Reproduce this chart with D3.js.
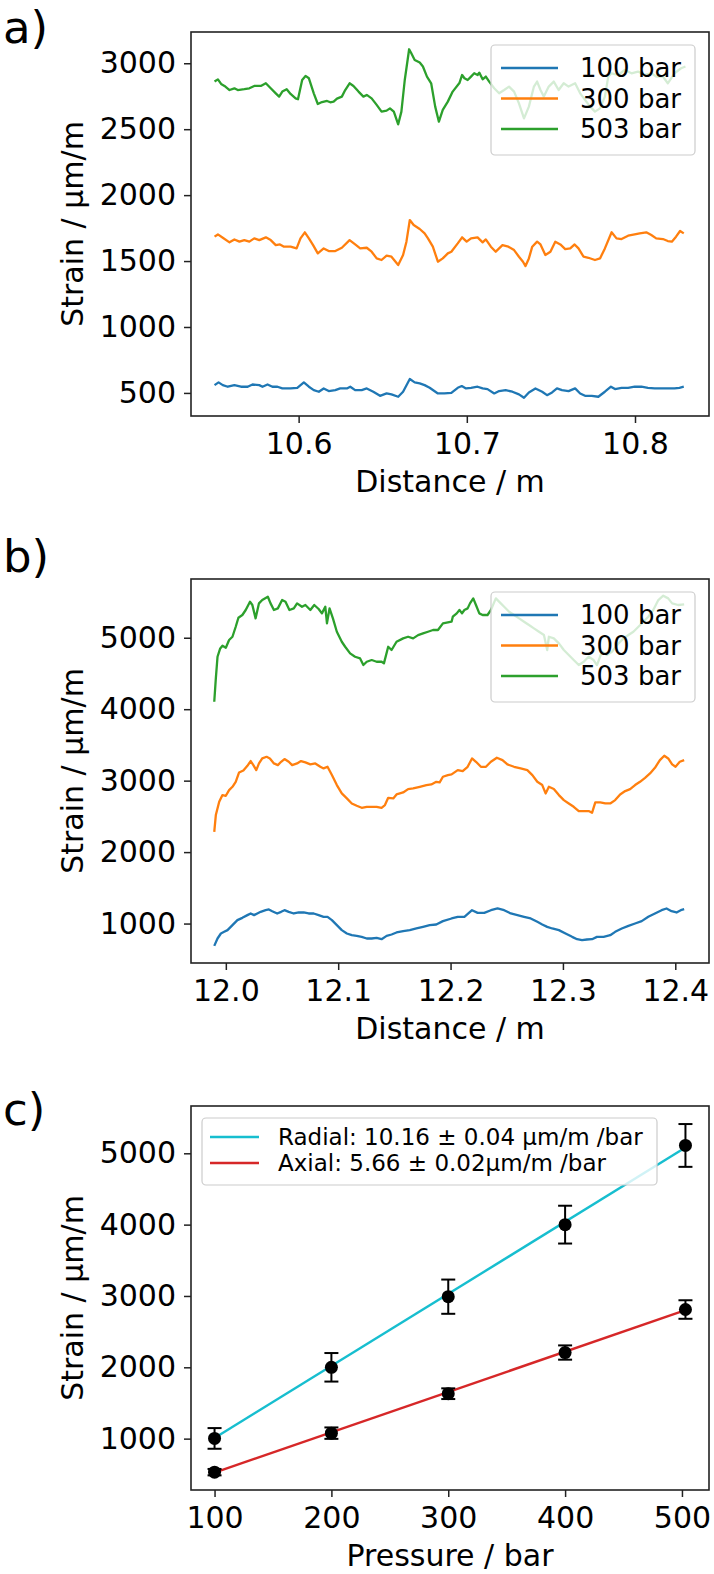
<!DOCTYPE html>
<meta charset="utf-8">
<head>
<style>
  body { margin: 0; background: white; }
  svg { display: block; }
  text { font-family: "DejaVu Sans", sans-serif; fill: #000; }
</style>
<script src="https://d3js.org/d3.v7.min.js"></script>
</head>
<body>
<svg id="fig"></svg>
<script>

// ---- panel a : strain along 10.55 - 10.83 m ----
const aBlue = [[10.5500,559],[10.5524,580],[10.5549,559],[10.5579,547],[10.5618,559],[10.5657,547],[10.5697,547],[10.5726,564],[10.5766,559],[10.5785,547],[10.5815,564],[10.5844,547],[10.5874,547],[10.5903,534],[10.5952,534],[10.5992,539],[10.6031,580],[10.6061,547],[10.6090,521],[10.6120,509],[10.6149,534],[10.6179,514],[10.6218,521],[10.6247,534],[10.6287,534],[10.6307,547],[10.6336,521],[10.6375,521],[10.6405,534],[10.6444,509],[10.6484,478],[10.6523,496],[10.6552,489],[10.6592,471],[10.6621,509],[10.6661,605],[10.6690,580],[10.6720,572],[10.6749,559],[10.6779,539],[10.6828,496],[10.6867,496],[10.6908,500],[10.6946,539],[10.6970,552],[10.6995,534],[10.7025,539],[10.7064,547],[10.7094,534],[10.7123,529],[10.7163,496],[10.7192,514],[10.7231,521],[10.7271,509],[10.7310,489],[10.7340,463],[10.7369,504],[10.7408,534],[10.7448,509],[10.7477,483],[10.7507,504],[10.7536,534],[10.7566,521],[10.7605,514],[10.7644,534],[10.7674,496],[10.7703,478],[10.7743,478],[10.7782,471],[10.7821,509],[10.7857,547],[10.7881,529],[10.7920,539],[10.7959,539],[10.7998,547],[10.8038,547],[10.8077,539],[10.8117,534],[10.8156,534],[10.8195,534],[10.8235,534],[10.8264,539],[10.8290,547]]

const aOrange = [[10.5500,1685],[10.5520,1702],[10.5549,1677],[10.5589,1642],[10.5618,1664],[10.5648,1647],[10.5677,1659],[10.5707,1647],[10.5736,1672],[10.5766,1659],[10.5805,1680],[10.5834,1659],[10.5864,1621],[10.5889,1626],[10.5913,1609],[10.5952,1609],[10.5988,1596],[10.6011,1672],[10.6037,1718],[10.6061,1672],[10.6086,1621],[10.6114,1558],[10.6149,1596],[10.6179,1576],[10.6218,1576],[10.6257,1601],[10.6303,1659],[10.6336,1626],[10.6366,1596],[10.6405,1601],[10.6434,1571],[10.6464,1520],[10.6493,1508],[10.6523,1541],[10.6552,1533],[10.6592,1470],[10.6621,1546],[10.6641,1647],[10.6661,1811],[10.6684,1773],[10.6720,1743],[10.6749,1710],[10.6769,1672],[10.6798,1609],[10.6828,1495],[10.6857,1520],[10.6887,1558],[10.6908,1571],[10.6946,1634],[10.6972,1680],[10.6999,1647],[10.7025,1672],[10.7064,1680],[10.7094,1642],[10.7113,1664],[10.7143,1609],[10.7172,1571],[10.7212,1621],[10.7247,1609],[10.7281,1583],[10.7310,1533],[10.7334,1495],[10.7349,1462],[10.7369,1520],[10.7389,1609],[10.7418,1647],[10.7438,1626],[10.7467,1546],[10.7497,1571],[10.7526,1647],[10.7556,1626],[10.7585,1591],[10.7615,1596],[10.7641,1626],[10.7664,1596],[10.7694,1533],[10.7723,1525],[10.7762,1508],[10.7792,1520],[10.7821,1596],[10.7861,1718],[10.7890,1672],[10.7920,1667],[10.7959,1692],[10.7998,1702],[10.8028,1710],[10.8067,1718],[10.8097,1697],[10.8126,1672],[10.8166,1667],[10.8195,1652],[10.8219,1647],[10.8244,1685],[10.8268,1728],[10.8290,1710]]

const aGreen = [[10.5500,2861],[10.5520,2878],[10.5539,2843],[10.5559,2828],[10.5589,2797],[10.5618,2810],[10.5638,2797],[10.5677,2803],[10.5707,2810],[10.5736,2828],[10.5775,2828],[10.5805,2848],[10.5834,2810],[10.5864,2772],[10.5884,2747],[10.5903,2785],[10.5929,2803],[10.5952,2767],[10.5982,2734],[10.5996,2727],[10.6021,2873],[10.6041,2904],[10.6061,2886],[10.6090,2772],[10.6114,2691],[10.6139,2706],[10.6169,2714],[10.6188,2704],[10.6208,2709],[10.6228,2732],[10.6257,2747],[10.6277,2797],[10.6303,2848],[10.6326,2828],[10.6356,2785],[10.6385,2747],[10.6405,2760],[10.6434,2734],[10.6464,2684],[10.6493,2633],[10.6523,2641],[10.6543,2658],[10.6566,2633],[10.6592,2537],[10.6611,2633],[10.6631,2873],[10.6657,3106],[10.6670,3076],[10.6690,3025],[10.6720,3005],[10.6739,2975],[10.6763,2899],[10.6788,2848],[10.6812,2671],[10.6834,2557],[10.6857,2646],[10.6887,2709],[10.6916,2785],[10.6956,2850],[10.6972,2911],[10.6986,2886],[10.7005,2873],[10.7025,2899],[10.7044,2924],[10.7064,2911],[10.7074,2929],[10.7094,2878],[10.7113,2899],[10.7133,2861],[10.7163,2810],[10.7192,2772],[10.7222,2797],[10.7251,2823],[10.7281,2785],[10.7310,2696],[10.7340,2582],[10.7369,2671],[10.7399,2823],[10.7418,2861],[10.7438,2797],[10.7458,2747],[10.7487,2823],[10.7517,2861],[10.7546,2797],[10.7576,2848],[10.7605,2823],[10.7644,2848],[10.7674,2772],[10.7703,2722],[10.7733,2671],[10.7762,2633],[10.7792,2658],[10.7821,2747],[10.7841,2899],[10.7861,2924],[10.7900,2911],[10.7939,2949],[10.7979,2924],[10.8018,2937],[10.8057,2911],[10.8097,2924],[10.8126,2899],[10.8166,2899],[10.8195,2848],[10.8215,2886],[10.8235,2924],[10.8274,2962],[10.8300,2975]]

// ---- panel b : strain along 11.99 - 12.41 m ----
const bBlue = [[11.9897,688],[11.9926,791],[11.9956,861],[11.9985,884],[12.0015,908],[12.0059,978],[12.0103,1048],[12.0147,1080],[12.0192,1118],[12.0221,1141],[12.0251,1118],[12.0280,1141],[12.0310,1164],[12.0354,1187],[12.0383,1197],[12.0413,1173],[12.0457,1141],[12.0492,1164],[12.0522,1187],[12.0560,1164],[12.0605,1141],[12.0649,1155],[12.0693,1155],[12.0737,1141],[12.0782,1141],[12.0826,1118],[12.0870,1094],[12.0905,1094],[12.0944,1048],[12.0988,978],[12.1032,908],[12.1077,861],[12.1121,837],[12.1165,828],[12.1209,814],[12.1254,791],[12.1298,791],[12.1342,800],[12.1386,781],[12.1431,828],[12.1475,847],[12.1519,875],[12.1578,893],[12.1637,908],[12.1696,931],[12.1755,954],[12.1814,978],[12.1873,987],[12.1932,1034],[12.2009,1071],[12.2064,1094],[12.2123,1094],[12.2191,1187],[12.2241,1150],[12.2300,1150],[12.2359,1187],[12.2418,1211],[12.2477,1187],[12.2536,1141],[12.2595,1118],[12.2654,1094],[12.2713,1071],[12.2772,1024],[12.2816,987],[12.2860,954],[12.2905,931],[12.2964,908],[12.3023,861],[12.3082,814],[12.3126,781],[12.3170,767],[12.3214,777],[12.3259,781],[12.3303,814],[12.3362,814],[12.3421,837],[12.3465,884],[12.3524,931],[12.3583,968],[12.3642,1001],[12.3701,1034],[12.3760,1094],[12.3819,1141],[12.3878,1187],[12.3922,1211],[12.3967,1173],[12.4011,1155],[12.4049,1187],[12.4079,1201]]

const bOrange = [[11.9897,2284],[11.9911,2518],[11.9941,2704],[11.9970,2798],[12.0000,2788],[12.0029,2868],[12.0059,2914],[12.0088,2984],[12.0118,3115],[12.0156,3143],[12.0192,3208],[12.0221,3274],[12.0245,3218],[12.0271,3148],[12.0295,3241],[12.0324,3311],[12.0363,3334],[12.0392,3311],[12.0428,3241],[12.0463,3218],[12.0492,3264],[12.0522,3302],[12.0560,3264],[12.0590,3218],[12.0634,3241],[12.0669,3274],[12.0708,3255],[12.0752,3227],[12.0796,3241],[12.0841,3194],[12.0870,3171],[12.0905,3194],[12.0944,3078],[12.0988,2938],[12.1032,2821],[12.1077,2751],[12.1121,2681],[12.1165,2648],[12.1209,2620],[12.1254,2634],[12.1298,2634],[12.1342,2634],[12.1386,2620],[12.1416,2658],[12.1445,2760],[12.1490,2751],[12.1519,2807],[12.1578,2835],[12.1622,2882],[12.1667,2891],[12.1726,2914],[12.1785,2938],[12.1829,2947],[12.1873,2984],[12.1903,2975],[12.1932,3054],[12.1976,3078],[12.2009,3087],[12.2064,3148],[12.2108,3134],[12.2152,3194],[12.2191,3311],[12.2226,3264],[12.2270,3194],[12.2315,3194],[12.2359,3264],[12.2412,3320],[12.2462,3288],[12.2506,3227],[12.2565,3194],[12.2624,3171],[12.2683,3148],[12.2728,3078],[12.2772,2984],[12.2816,2938],[12.2846,2821],[12.2875,2914],[12.2919,2882],[12.2964,2798],[12.3008,2728],[12.3052,2681],[12.3096,2634],[12.3141,2574],[12.3185,2574],[12.3229,2574],[12.3259,2550],[12.3288,2695],[12.3332,2695],[12.3377,2681],[12.3421,2681],[12.3465,2728],[12.3509,2807],[12.3554,2854],[12.3598,2882],[12.3642,2938],[12.3686,2984],[12.3731,3040],[12.3775,3101],[12.3819,3180],[12.3863,3288],[12.3902,3348],[12.3937,3311],[12.3972,3227],[12.4002,3194],[12.4040,3264],[12.4079,3288]]

const bGreen = [[11.9897,4104],[11.9911,4431],[11.9926,4734],[11.9950,4851],[11.9970,4888],[12.0000,4860],[12.0029,4968],[12.0059,5014],[12.0088,5154],[12.0112,5280],[12.0147,5318],[12.0177,5388],[12.0215,5504],[12.0236,5458],[12.0265,5271],[12.0295,5481],[12.0324,5528],[12.0374,5574],[12.0398,5481],[12.0428,5388],[12.0463,5411],[12.0501,5528],[12.0531,5504],[12.0566,5388],[12.0605,5411],[12.0634,5481],[12.0678,5434],[12.0708,5458],[12.0752,5388],[12.0787,5458],[12.0826,5402],[12.0855,5341],[12.0885,5434],[12.0900,5201],[12.0923,5411],[12.0953,5271],[12.0988,5084],[12.1032,4944],[12.1062,4874],[12.1106,4781],[12.1150,4734],[12.1195,4711],[12.1224,4618],[12.1254,4664],[12.1298,4688],[12.1342,4664],[12.1386,4664],[12.1407,4641],[12.1445,4874],[12.1475,4828],[12.1519,4944],[12.1578,4991],[12.1622,5014],[12.1667,4991],[12.1711,5037],[12.1755,5061],[12.1799,5084],[12.1844,5108],[12.1888,5108],[12.1932,5201],[12.2009,5224],[12.2020,5294],[12.2055,5341],[12.2079,5388],[12.2102,5341],[12.2123,5388],[12.2152,5411],[12.2173,5481],[12.2202,5551],[12.2226,5458],[12.2256,5341],[12.2285,5318],[12.2329,5318],[12.2359,5388],[12.2403,5551],[12.2447,5481],[12.2477,5434],[12.2521,5364],[12.2565,5318],[12.2610,5271],[12.2654,5224],[12.2698,5178],[12.2742,5131],[12.2787,5084],[12.2831,5038],[12.2860,4828],[12.2875,5014],[12.2919,4991],[12.2964,4921],[12.3008,4828],[12.3052,4758],[12.3096,4688],[12.3141,4618],[12.3185,4664],[12.3229,4734],[12.3273,4688],[12.3303,4618],[12.3347,4804],[12.3391,4758],[12.3436,4804],[12.3495,4921],[12.3539,4991],[12.3583,5038],[12.3627,5084],[12.3672,5154],[12.3716,5224],[12.3760,5294],[12.3804,5388],[12.3849,5528],[12.3893,5588],[12.3937,5551],[12.3972,5481],[12.4026,5458],[12.4079,5467]]

const pressureLabels = ["100 bar", "300 bar", "503 bar"]

// ---- panel c : strain vs pressure ----
const pressure = [100, 200, 300, 400, 503]
const radial = [1003, 2000, 2990, 4000, 5110]
const radialErr = [145, 200, 240, 265, 300]
const axial = [530, 1077, 1630, 2207, 2810]
const axialErr = [45, 80, 75, 100, 130]
const radialFit = [[100, 1010], [503, 5080]]
const axialFit = [[100, 525], [503, 2800]]
const fitLabels = ["Radial: 10.16 \u00b1 0.04 \u00b5m/m /bar", "Axial: 5.66 \u00b1 0.02\u00b5m/m /bar"]

// axis limits and ticks
const aXLim = [10.536, 10.844], aYLim = [325, 3237]
const aXTicks = [10.6, 10.7, 10.8], aYTicks = [500, 1000, 1500, 2000, 2500, 3000]
const bXLim = [11.969, 12.430], bYLim = [448, 5822]
const bXTicks = [12.0, 12.1, 12.2, 12.3, 12.4], bYTicks = [1000, 2000, 3000, 4000, 5000]
const cXLim = [79.85, 523.15], cYLim = [280, 5663]
const cXTicks = [100, 200, 300, 400, 500], cYTicks = [1000, 2000, 3000, 4000, 5000]

const tab = { blue: "#1f77b4", orange: "#ff7f0e", green: "#2ca02c", cyan: "#17becf", red: "#d62728" }

let svg = d3.select("#fig").attr("width", 714).attr("height", 1574)
svg.append("rect").attr("width", 714).attr("height", 1574).attr("fill", "white")

function makePanel(p) {
    let x = d3.scaleLinear().domain(p.xLim).range([191, 709])
    let y = d3.scaleLinear().domain(p.yLim).range([p.bottom, p.top])
    let g = svg.append("g")

    let axX = g.append("g")
        .attr("transform", `translate(0,${p.bottom})`)
        .call(d3.axisBottom(x).tickValues(p.xTicks).tickSize(7).tickPadding(10).tickFormat(p.xFmt))
    let axY = g.append("g")
        .attr("transform", `translate(191,0)`)
        .call(d3.axisLeft(y).tickValues(p.yTicks).tickSize(7).tickPadding(8).tickFormat(d3.format("d")))
    for (let ax of [axX, axY]) {
        ax.select(".domain").remove()
        ax.selectAll("line").attr("stroke", "#222").attr("stroke-width", 1.5)
        ax.selectAll("text").style("font-size", "30px").style("font-family", "DejaVu Sans").attr("fill", "#000")
    }

    g.append("text")
        .attr("x", 450).attr("y", p.bottom + 76)
        .attr("text-anchor", "middle").style("font-size", "30px")
        .text(p.xTitle)
    g.append("text")
        .attr("transform", `translate(83,${(p.top + p.bottom) / 2}) rotate(-90)`)
        .attr("text-anchor", "middle").style("font-size", "30px")
        .text("Strain / \u00b5m/m")
    g.append("text")
        .attr("x", 3).attr("y", p.labelY)
        .style("font-size", "45px")
        .text(p.label)

    return { x, y, g }
}

function drawFrame(g, p) {
    g.append("rect")
        .attr("x", 191).attr("y", p.top)
        .attr("width", 518).attr("height", p.bottom - p.top)
        .attr("fill", "none").attr("stroke", "#222").attr("stroke-width", 1.6)
}

function drawLegend(g, box, rows, font) {
    g.append("rect")
        .attr("x", box.x).attr("y", box.y).attr("width", box.w).attr("height", box.h)
        .attr("rx", 4).attr("fill", "white").attr("fill-opacity", 0.8)
        .attr("stroke", "#cccccc").attr("stroke-width", 1.2)
    rows.forEach((r, i) => {
        let yy = box.y + box.first + i * box.step
        g.append("line")
            .attr("x1", box.hx0).attr("x2", box.hx1).attr("y1", yy).attr("y2", yy)
            .attr("stroke", r.color).attr("stroke-width", 2.4)
        g.append("text")
            .attr("x", box.tx).attr("y", yy).attr("dy", "0.36em")
            .style("font-size", font)
            .text(r.label)
    })
}

function drawProfilePanel(p, series) {
    let { x, y, g } = makePanel(p)
    let line = d3.line().x(d => x(d[0])).y(d => y(d[1]))
    series.forEach(s => {
        g.append("path").datum(s.data)
            .attr("d", line).attr("fill", "none")
            .attr("stroke", s.color).attr("stroke-width", 2.3)
            .attr("stroke-linejoin", "round")
    })
    drawFrame(g, p)
    drawLegend(g, { x: 491, y: p.legendY, w: 204, h: 110, first: 23, step: 30.5, hx0: 501, hx1: 558, tx: 580 },
        series.map((s, i) => ({ color: s.color, label: pressureLabels[i] })), "26px")
}

drawProfilePanel({
    xLim: aXLim, yLim: aYLim, xTicks: aXTicks, yTicks: aYTicks, xFmt: d3.format(".1f"),
    top: 32, bottom: 416, xTitle: "Distance / m", label: "a)", labelY: 43, legendY: 45
}, [{ data: aBlue, color: tab.blue }, { data: aOrange, color: tab.orange }, { data: aGreen, color: tab.green }])

drawProfilePanel({
    xLim: bXLim, yLim: bYLim, xTicks: bXTicks, yTicks: bYTicks, xFmt: d3.format(".1f"),
    top: 579, bottom: 963, xTitle: "Distance / m", label: "b)", labelY: 572, legendY: 592
}, [{ data: bBlue, color: tab.blue }, { data: bOrange, color: tab.orange }, { data: bGreen, color: tab.green }])

// panel c
let pc = {
    xLim: cXLim, yLim: cYLim, xTicks: cXTicks, yTicks: cYTicks, xFmt: d3.format("d"),
    top: 1106, bottom: 1490, xTitle: "Pressure / bar", label: "c)", labelY: 1125
}
let { x: cx, y: cy, g: cg } = makePanel(pc)
let fitLine = d3.line().x(d => cx(d[0])).y(d => cy(d[1]))
cg.append("path").datum(radialFit).attr("d", fitLine).attr("fill", "none")
    .attr("stroke", tab.cyan).attr("stroke-width", 2.4)
cg.append("path").datum(axialFit).attr("d", fitLine).attr("fill", "none")
    .attr("stroke", tab.red).attr("stroke-width", 2.4)

let points = []
pressure.forEach((p, i) => {
    points.push({ p, v: radial[i], e: radialErr[i] })
    points.push({ p, v: axial[i], e: axialErr[i] })
})
let eb = cg.selectAll(".eb").data(points).enter().append("g")
eb.append("line")
    .attr("x1", d => cx(d.p)).attr("x2", d => cx(d.p))
    .attr("y1", d => cy(d.v - d.e)).attr("y2", d => cy(d.v + d.e))
    .attr("stroke", "black").attr("stroke-width", 2)
for (let sgn of [-1, 1]) {
    eb.append("line")
        .attr("x1", d => cx(d.p) - 7).attr("x2", d => cx(d.p) + 7)
        .attr("y1", d => cy(d.v + sgn * d.e)).attr("y2", d => cy(d.v + sgn * d.e))
        .attr("stroke", "black").attr("stroke-width", 2)
}
eb.append("circle")
    .attr("cx", d => cx(d.p)).attr("cy", d => cy(d.v)).attr("r", 6.5)
    .attr("fill", "black")

drawFrame(cg, pc)
drawLegend(cg, { x: 202, y: 1118, w: 455, h: 67, first: 19, step: 26, hx0: 210, hx1: 259, tx: 278 },
    [{ color: tab.cyan, label: fitLabels[0] }, { color: tab.red, label: fitLabels[1] }], "23px")

</script>
</body>
